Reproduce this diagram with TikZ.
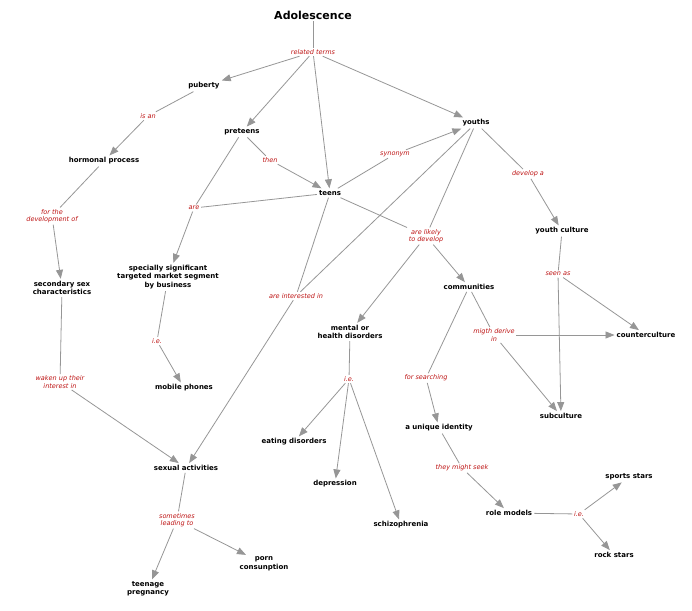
\documentclass[tikz,border=0pt]{standalone}
\usepackage{fontspec}
\setmainfont{DejaVu Sans}
\usetikzlibrary{arrows.meta}
\definecolor{lbl}{RGB}{190,20,20}
\definecolor{ln}{RGB}{150,150,150}
\tikzset{
 c/.style={font=\fontsize{7}{8.5}\selectfont\bfseries,align=center,inner sep=2pt},
 l/.style={font=\fontsize{6.5}{7.5}\selectfont\itshape,text=lbl,align=center,inner sep=1.5pt,fill=white},
 e/.style={draw=ln,line width=0.8pt},
 a/.style={e,-{Triangle[length=9pt,width=7pt]},color=ln}
}
\begin{document}
\begin{tikzpicture}[x=1pt,y=-1pt]
\useasboundingbox (0,0) rectangle (692,610);
\node[c,font=\fontsize{11}{13}\selectfont\bfseries] (ado) at (313,15) {Adolescence};
\node[l] (rt) at (313,52) {related terms};
\node[c] (pub) at (204,86) {puberty};
\node[l] (isan) at (148,116) {is an};
\node[c] (hor) at (104,161) {hormonal process};
\node[l] (fdev) at (52,216) {for the\\development of};
\node[c] (sec) at (62,288) {secondary sex\\characteristics};
\node[l] (wak) at (60,382) {waken up their\\interest in};
\node[c] (sex) at (186,468) {sexual activities};
\node[l] (sld) at (177,520) {sometimes\\leading to};
\node[c] (preg) at (148,589) {teenage\\pregnancy};
\node[c] (porn) at (264,564) {porn\\consunption};
\node[c] (pre) at (242,132) {preteens};
\node[l] (then) at (270,160) {then};
\node[c] (teens) at (330,193) {teens};
\node[l] (are) at (194,208) {are};
\node[c] (seg) at (168,277) {specially significant\\targeted market segment\\by business};
\node[l] (ie1) at (157,341) {i.e.};
\node[c] (mob) at (184,388) {mobile phones};
\node[l] (int) at (296,296) {are interested in};
\node[c] (you) at (476,123) {youths};
\node[l] (syn) at (395,154) {synonym};
\node[l] (dev) at (528,174) {develop a};
\node[c] (yc) at (562,231) {youth culture};
\node[l] (seen) at (558,274) {seen as};
\node[c] (cc) at (646,335) {counterculture};
\node[c] (sub) at (561,416) {subculture};
\node[l] (likely) at (426,236) {are likely\\to develop};
\node[c] (com) at (469,287) {communities};
\node[l] (mig) at (494,335) {migth derive\\in};
\node[l] (fs) at (426,378) {for searching};
\node[c] (uid) at (439,428) {a unique identity};
\node[l] (tms) at (462,468) {they might seek};
\node[c] (rm) at (509,513) {role models};
\node[l] (ie3) at (579,514) {i.e.};
\node[c] (ss) at (629,477) {sports stars};
\node[c] (rs) at (614,555) {rock stars};
\node[c] (men) at (350,332) {mental or\\health disorders};
\node[l] (ie2) at (349,379) {i.e.};
\node[c] (eat) at (294,442) {eating disorders};
\node[c] (dep) at (335,484) {depression};
\node[c] (sch) at (401,525) {schizophrenia};
\begin{scope}[on background layer/.style={}]
\draw[e] (ado) -- (rt);
\draw[a] (rt) -- (pub); \draw[a] (rt) -- (pre); \draw[a] (rt) -- (teens); \draw[a] (rt) -- (you);
\draw[e] (pub) -- (isan); \draw[a] (isan) -- (hor);
\draw[e] (hor) -- (fdev); \draw[a] (fdev) -- (sec);
\draw[e] (sec) -- (wak); \draw[a] (wak) -- (sex);
\draw[e] (sex) -- (sld); \draw[a] (sld) -- (preg); \draw[a] (sld) -- (porn);
\draw[e] (pre) -- (then); \draw[a] (then) -- (teens);
\draw[e] (pre) -- (are); \draw[e] (teens) -- (are); \draw[a] (are) -- (seg);
\draw[e] (seg) -- (ie1); \draw[a] (ie1) -- (mob);
\draw[e] (teens) -- (syn); \draw[a] (syn) -- (you);
\draw[e] (teens) -- (int); \draw[e] (you) -- (int); \draw[a] (int) -- (sex);
\draw[e] (teens) -- (likely); \draw[e] (you) -- (likely);
\draw[a] (likely) -- (com); \draw[a] (likely) -- (men);
\draw[e] (you) -- (dev); \draw[a] (dev) -- (yc);
\draw[e] (yc) -- (seen); \draw[a] (seen) -- (cc); \draw[a] (seen) -- (sub);
\draw[e] (com) -- (mig); \draw[a] (mig) -- (cc); \draw[a] (mig) -- (sub);
\draw[e] (com) -- (fs); \draw[a] (fs) -- (uid);
\draw[e] (uid) -- (tms); \draw[a] (tms) -- (rm);
\draw[e] (rm) -- (ie3); \draw[a] (ie3) -- (ss); \draw[a] (ie3) -- (rs);
\draw[e] (men) -- (ie2); \draw[a] (ie2) -- (eat); \draw[a] (ie2) -- (dep); \draw[a] (ie2) -- (sch);
\end{scope}
\end{tikzpicture}
\end{document}
